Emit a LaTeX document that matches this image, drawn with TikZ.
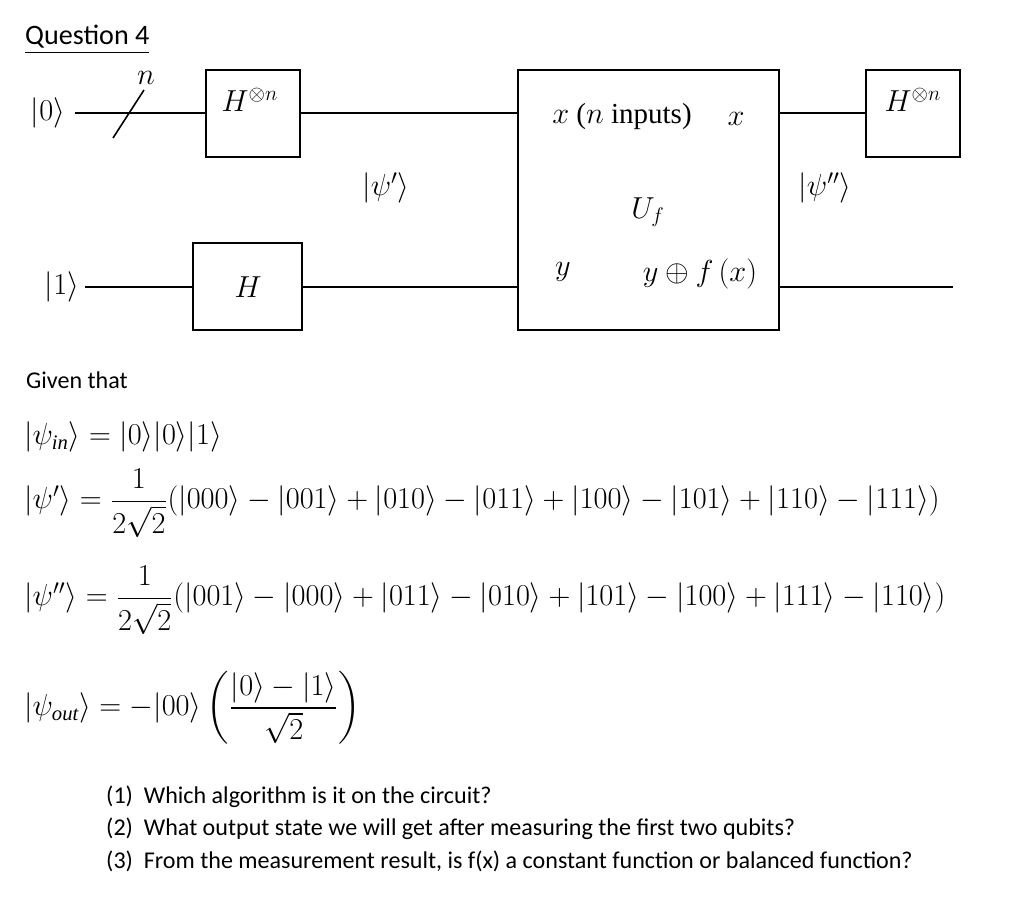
\documentclass[tikz,border=0pt]{standalone}
\usepackage{amsmath}
\usepackage{fontspec}
\setmainfont{Liberation Serif}
\newfontfamily\calib{Carlito}
\begin{document}
\begin{tikzpicture}[x=0.02cm,y=-0.02cm,
  gate/.style={draw,line width=0.9pt},
  wire/.style={line width=0.9pt},
  ckt/.style={font=\fontsize{16.5}{19}\selectfont},
  txt/.style={font=\calib\fontsize{13.7}{16}\selectfont,anchor=west},
  eq/.style={font=\fontsize{16.8}{20}\selectfont,anchor=west}]
\useasboundingbox (0,0) rectangle (1024,918);
\node[txt,font=\calib\fontsize{16}{19}\selectfont] (title) at (19,40) {\underline{Question 4}};
% circuit
\node[ckt] (k0) at (48,113) {$|0\rangle$};
\node[ckt] (k1) at (62,287) {$|1\rangle$};
\coordinate (w0) at (75,113);
\coordinate (w1) at (85,287);
\draw[gate] (206,70) rectangle (300,157);
\node[ckt] (hnl) at (250,100) {$H^{\otimes n}$};
\draw[gate] (193,243) rectangle (302,330);
\node[ckt] (hl) at (248,287) {$H$};
\draw[gate] (518,70) rectangle (779,330);
\draw[gate] (866,70) rectangle (960,157);
\node[ckt] (hn2l) at (913,100) {$H^{\otimes n}$};
\draw[wire] (w0) -- (206,113);
\draw[wire] (300,113) -- (518,113);
\draw[wire] (779,113) -- (866,113);
\draw[wire] (w1) -- (193,287);
\draw[wire] (302,287) -- (518,287);
\draw[wire] (779,287) -- (953,287);
\draw[wire] (113,138) -- (144,90);
\node[ckt] (nl) at (146,78) {$n$};
\node[ckt] (p1) at (386,188) {$|\psi'\rangle$};
\node[ckt] (p2) at (825,188) {$|\psi''\rangle$};
\node[ckt] (xin) at (622,117) {$x$ ($n$ inputs)};
\node[ckt] (xout) at (736,119) {$x$};
\node[ckt] (uf) at (648,212) {$U_f$};
\node[ckt] (yin) at (563,272) {$y$};
\node[ckt] (yout) at (700,274) {$y\oplus f\,(x)$};
% text
\node[txt] (given) at (20,380) {Given that};
\node[eq] (e0) at (18,437) {$|\psi_{\mathit{in}}\rangle = |0\rangle|0\rangle|1\rangle$};
\node[eq] (e1) at (18,503) {$|\psi'\rangle = \dfrac{1}{2\sqrt{2}}(|000\rangle - |001\rangle + |010\rangle - |011\rangle + |100\rangle - |101\rangle + |110\rangle - |111\rangle)$};
\node[eq] (e2) at (18,600) {$|\psi''\rangle = \dfrac{1}{2\sqrt{2}}(|001\rangle - |000\rangle + |011\rangle - |010\rangle + |101\rangle - |100\rangle + |111\rangle - |110\rangle)$};
\node[eq] (e3) at (18,708) {$|\psi_{\mathit{out}}\rangle = -|00\rangle\left(\dfrac{|0\rangle-|1\rangle}{\sqrt{2}}\right)$};
\node[txt] (q1) at (100,797) {(1)\ \ Which algorithm is it on the circuit?};
\node[txt] (q2) at (100,829) {(2)\ \ What output state we will get after measuring the first two qubits?};
\node[txt] (q3) at (100,861) {(3)\ \ From the measurement result, is f(x) a constant function or balanced function?};
\end{tikzpicture}
\end{document}
